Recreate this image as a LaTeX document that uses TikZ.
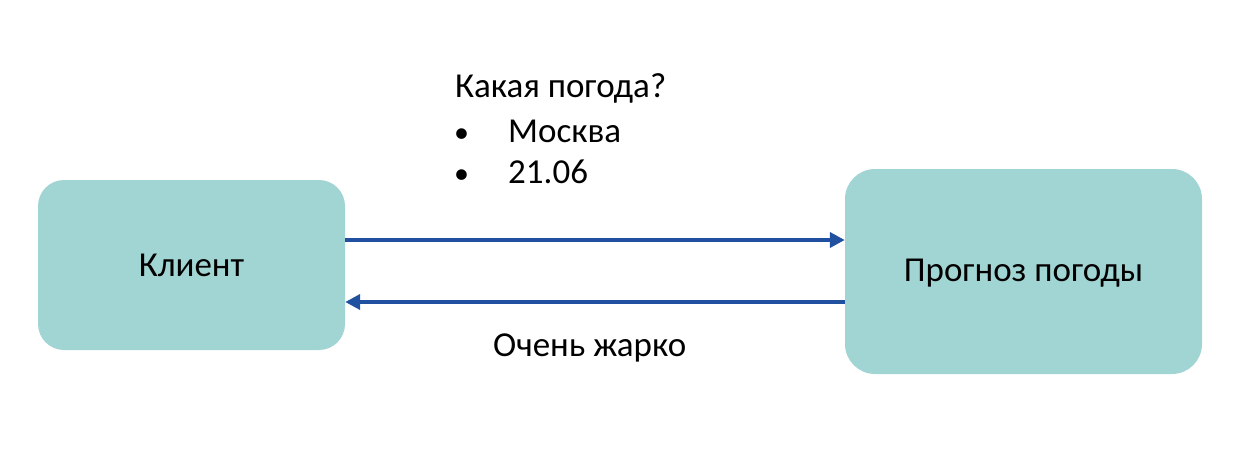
\documentclass[tikz,border=0pt]{standalone}
\usepackage{fontspec}
\setmainfont{Carlito}
\usetikzlibrary{arrows.meta}
\definecolor{boxfill}{HTML}{A1D5D3}
\definecolor{arrowblue}{HTML}{2150A0}
\begin{document}
\begin{tikzpicture}[x=1pt,y=-1pt,
  box/.style={fill=boxfill,draw=none,rounded corners=26pt,inner sep=0pt},
  lbl/.style={font=\fontsize{35}{42}\selectfont,inner sep=0pt},
  bul/.style={font=\fontsize{30}{36}\selectfont,inner sep=0pt},
  conn/.style={draw=arrowblue,line width=4pt,-{Triangle[length=15pt,width=15pt]}}]
\useasboundingbox (0,0) rectangle (1240,448);
\node[box,minimum width=307pt,minimum height=170pt] (client) at (191.5,265) {};
\node[box,minimum width=357pt,minimum height=205pt,rounded corners=30pt] (server) at (1023.5,271.5) {};
\node[lbl,anchor=base] (clientlbl) at (client.center |- 0,276) {Клиент};
\node[lbl,anchor=base] (serverlbl) at (server.center |- 0,281) {Прогноз погоды};
\coordinate (a1s) at (client.east |- 0,240);
\coordinate (a1e) at (server.west |- 0,240);
\coordinate (a2s) at (server.west |- 0,302);
\coordinate (a2e) at (client.east |- 0,302);
\draw[conn] (a1s) -- (a1e);
\draw[conn] (a2s) -- (a2e);
\node[lbl,anchor=base west] (q) at (455,97) {Какая погода?};
\node[bul,anchor=base west] (b1) at (454,142) {•};
\node[lbl,anchor=base west] (m) at (508,142) {Москва};
\node[bul,anchor=base west] (b2) at (454,183) {•};
\node[lbl,anchor=base west] (d) at (508,183) {21.06};
\node[lbl,anchor=base west] (ans) at (493,356) {Очень жарко};
\end{tikzpicture}
\end{document}
